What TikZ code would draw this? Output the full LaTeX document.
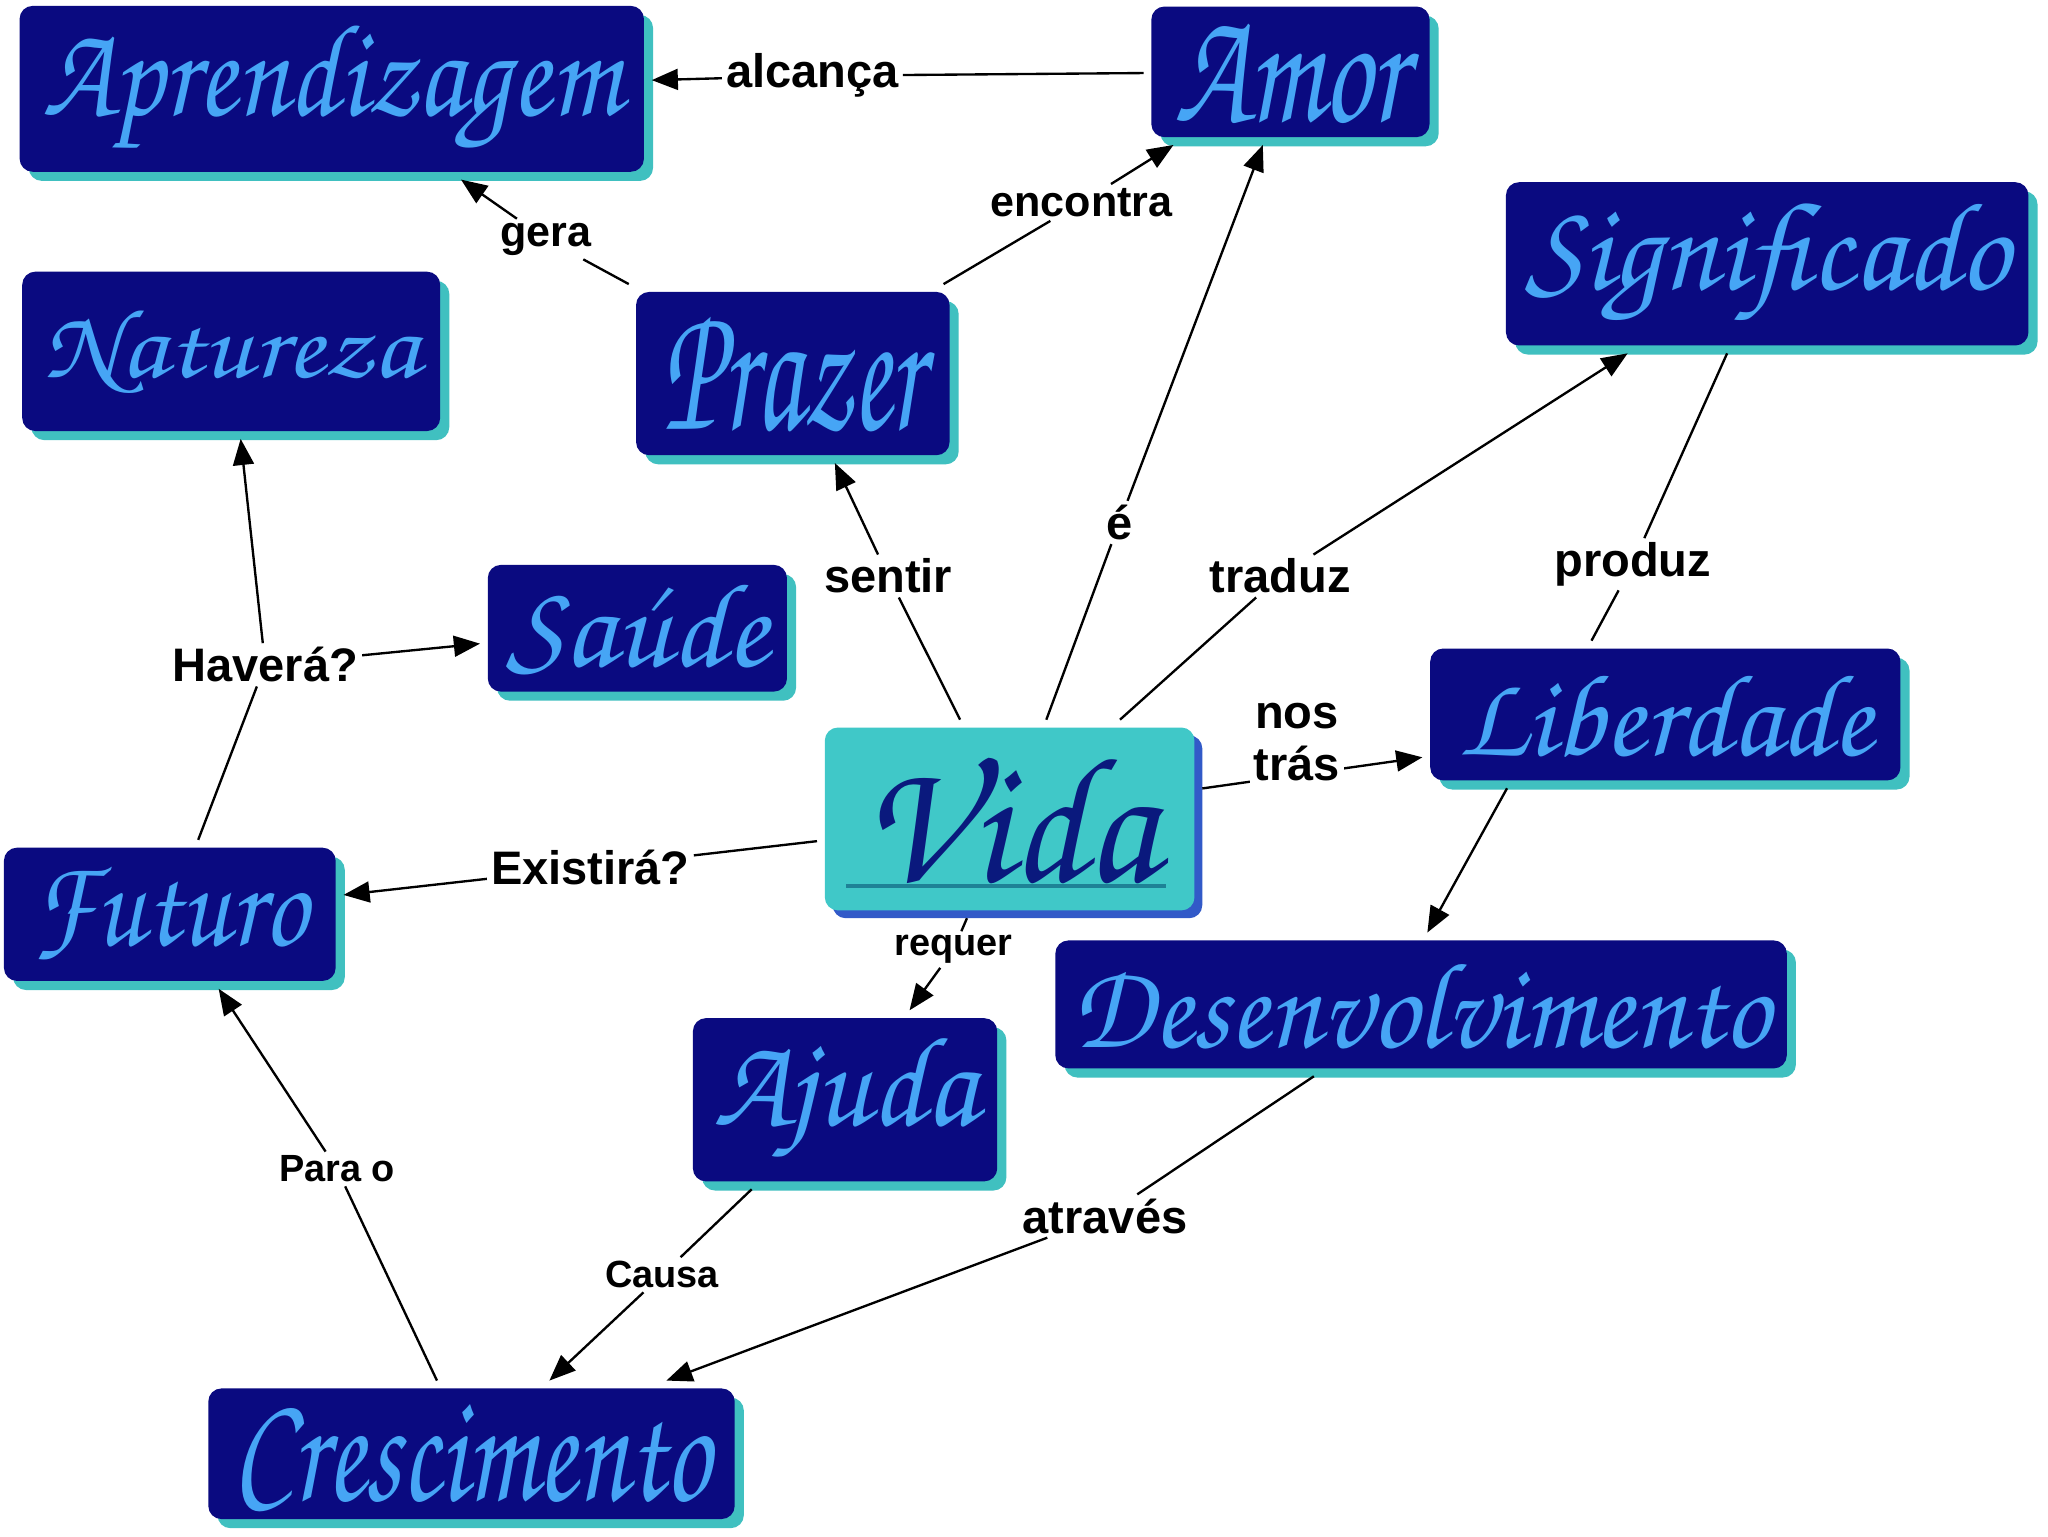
\documentclass[tikz,border=0pt]{standalone}
\usepackage[T1]{fontenc}
\usepackage{fontspec}
\setmainfont{Liberation Sans}
\usepackage{graphicx}
\usetikzlibrary{shadows,arrows.meta,calc}
\definecolor{navy}{RGB}{10,10,128}
\definecolor{lblue}{RGB}{70,165,245}
\definecolor{cshadow}{RGB}{64,192,192}
\definecolor{vfill}{RGB}{64,200,200}
\definecolor{vtext}{RGB}{10,25,125}
\definecolor{vshadow}{RGB}{50,90,200}
\definecolor{vline}{RGB}{30,130,150}
\newcommand\scrfont{\fontencoding{T1}\fontfamily{pzc}\fontseries{mb}\fontshape{it}\selectfont}
\newcommand\stxt[3]{\resizebox*{#1pt}{#2pt}{\scrfont #3}}
\begin{document}
\begin{tikzpicture}[x=1pt,y=-1pt,
  cbox/.style={fill=navy, rounded corners=10pt, inner sep=0pt, outer sep=6pt, text=lblue,
    general shadow={fill=cshadow, shadow xshift=7pt, shadow yshift=-7pt}},
  vbox/.style={fill=vfill, rounded corners=10pt, inner sep=0pt, outer sep=6pt, text=vtext,
    general shadow={fill=vshadow, shadow xshift=6pt, shadow yshift=-6pt}},
  lab/.style={font=\bfseries\fontsize{36}{40}\selectfont, inner sep=3pt, text=black},
  labm/.style={lab, font=\bfseries\fontsize{33}{36}\selectfont},
  labs/.style={lab, font=\bfseries\fontsize{29}{32}\selectfont},
  conn/.style={line width=1.8pt, draw=black},
  arr/.style={conn, -{Triangle[length=20pt,width=16pt]}}]
\fill[white] (0,0) rectangle (1568,1176);
\useasboundingbox (0,0) rectangle (1568,1176);

% concept boxes
\node[cbox, minimum width=478pt, minimum height=127pt] (apr) at (254,68) {\stxt{443}{103}{Aprendizagem}};
\node[cbox, minimum width=213pt, minimum height=100pt] (amor) at (988,55) {\stxt{178}{79}{Amor}};
\node[cbox, minimum width=400pt, minimum height=125pt] (sig) at (1353,202) {\stxt{370}{98}{Significado}};
\node[cbox, minimum width=320pt, minimum height=122pt] (nat) at (177,269) {\stxt{287}{67}{Natureza}};
\node[cbox, minimum width=240pt, minimum height=125pt] (praz) at (607,286) {\stxt{200}{90}{Prazer}};
\node[cbox, minimum width=229pt, minimum height=97pt] (saude) at (488,481) {\stxt{200}{72}{Sa\'ude}};
\node[vbox, minimum width=283pt, minimum height=140pt] (vida) at (773,627) {\stxt{225}{100}{Vida}};
\node[cbox, minimum width=360pt, minimum height=101pt] (lib) at (1275,547) {\stxt{317}{65}{Liberdade}};
\node[cbox, minimum width=254pt, minimum height=102pt] (fut) at (130,700) {\stxt{210}{72}{Futuro}};
\node[cbox, minimum width=560pt, minimum height=98pt] (des) at (1088,769) {\stxt{533}{68}{Desenvolvimento}};
\node[cbox, minimum width=233pt, minimum height=125pt] (aju) at (647,842) {\stxt{202}{100}{Ajuda}};
\node[cbox, minimum width=403pt, minimum height=100pt] (cres) at (361,1113) {\stxt{365}{75}{Crescimento}};
\draw[vline, line width=3pt] ($(vida.center)+(-125,51)$) -- ($(vida.center)+(120,51)$);

% linking labels
\node[lab] (alc) at (622,58) {alcança};
\node[labm] (gera) at (418,183) {gera};
\node[labm] (enc) at (828,155) {encontra};
\node[lab] (e) at (857,400) {é};
\node[lab] (sent) at (680,441) {sentir};
\node[lab] (trad) at (980,441) {traduz};
\node[lab] (prod) at (1250,432) {produz};
\node[lab] (hav) at (203,509) {Haverá?};
\node[lab] (exis) at (452,664) {Existirá?};
\node[labs] (req) at (730,727) {requer};
\node[labs] (para) at (258,895) {Para o};
\node[labs] (causa) at (507,976) {Causa};
\node[lab] (atr) at (846,931) {através};

% connectors
\draw[conn] (amor) -- (alc);
\draw[arr] (alc) -- (apr);
\draw[conn] (praz) -- (gera);
\draw[arr] (gera) -- (apr);
\draw[conn] (praz) -- (enc);
\draw[arr] (enc) -- (amor);
\draw[conn] (vida) -- (e);
\draw[arr] (e) -- (amor);
\draw[conn] (vida) -- (sent);
\draw[arr] (sent) -- (praz);
\draw[conn] (vida) -- (trad);
\draw[arr] (trad) -- (sig);
\draw[conn] (sig) -- (prod);
\draw[conn] (prod) -- (lib.135.5);
\draw[arr] (vida.9) -- (lib.190);
\node[lab, fill=white, align=center] (nos) at (993,568) {nos\\trás};
\draw[arr] (lib.205) -- (des.85);
\draw[conn] (vida) -- (exis);
\draw[arr] (exis) -- (fut);
\draw[conn] (fut) -- (hav);
\draw[arr] (hav) -- (nat);
\draw[arr] (hav) -- (saude);
\draw[conn] (vida) -- (req);
\draw[arr] (req) -- (aju);
\draw[conn] (aju) -- (causa);
\draw[arr] (causa) -- (cres);
\draw[conn] (des) -- (atr);
\draw[arr] (atr) -- (cres);
\draw[conn] (cres) -- (para);
\draw[arr] (para) -- (fut);
\end{tikzpicture}
\end{document}
